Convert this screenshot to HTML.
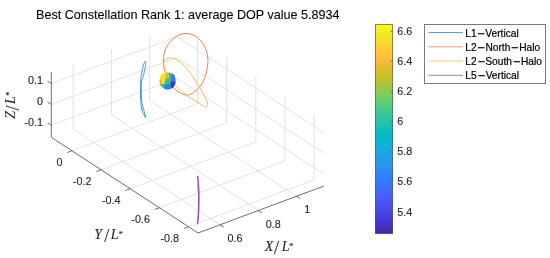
<!DOCTYPE html>
<html><head><meta charset="utf-8"><title>Best Constellation Rank 1</title>
<style>
html,body{margin:0;padding:0;background:#fff;width:550px;height:258px;overflow:hidden}
svg{display:block}
text{font-family:"Liberation Sans",Arial,sans-serif;font-size:10.8px;fill:#262626;stroke:#262626;stroke-width:0.12px}
.g{stroke:#dadada;stroke-width:0.8;fill:none}
.a{stroke:#5c5c5c;stroke-width:0.9;fill:none;stroke-linecap:butt}
.c{fill:none;stroke-width:1;stroke-linejoin:round;stroke-linecap:round}
.lbl{font-family:"Liberation Serif","Times New Roman",serif;font-style:italic;font-size:14px;fill:#262626;stroke:#262626;stroke-width:0.1px}
.lbl .sup{font-size:9px;font-style:normal}
.lbl .sl{font-size:18px;font-style:normal}
.ttl{font-size:12.6px;fill:#000}
.lg{font-size:10.2px;fill:#000;stroke:#000;stroke-width:0.2px}
.lg .mi{font-size:12.5px}
</style></head>
<body>
<svg width="550" height="258" viewBox="0 0 550 258">
<defs>
<linearGradient id="parula" x1="0" y1="1" x2="0" y2="0">
<stop offset="0.0000" stop-color="#3e26a8"/>
<stop offset="0.0159" stop-color="#402ab4"/>
<stop offset="0.0317" stop-color="#422ec0"/>
<stop offset="0.0476" stop-color="#4332cb"/>
<stop offset="0.0635" stop-color="#4537d5"/>
<stop offset="0.0794" stop-color="#463cde"/>
<stop offset="0.0952" stop-color="#4741e5"/>
<stop offset="0.1111" stop-color="#4747eb"/>
<stop offset="0.1270" stop-color="#484df0"/>
<stop offset="0.1429" stop-color="#4852f4"/>
<stop offset="0.1587" stop-color="#4758f8"/>
<stop offset="0.1746" stop-color="#465efb"/>
<stop offset="0.1905" stop-color="#4563fd"/>
<stop offset="0.2063" stop-color="#4269fe"/>
<stop offset="0.2222" stop-color="#3e6fff"/>
<stop offset="0.2381" stop-color="#3875fe"/>
<stop offset="0.2540" stop-color="#327cfc"/>
<stop offset="0.2698" stop-color="#2f81fa"/>
<stop offset="0.2857" stop-color="#2e87f7"/>
<stop offset="0.3016" stop-color="#2d8cf3"/>
<stop offset="0.3175" stop-color="#2b91ef"/>
<stop offset="0.3333" stop-color="#2797eb"/>
<stop offset="0.3492" stop-color="#259be8"/>
<stop offset="0.3651" stop-color="#23a0e5"/>
<stop offset="0.3810" stop-color="#20a5e3"/>
<stop offset="0.3968" stop-color="#1ca9df"/>
<stop offset="0.4127" stop-color="#18addb"/>
<stop offset="0.4286" stop-color="#12b1d6"/>
<stop offset="0.4444" stop-color="#08b5d0"/>
<stop offset="0.4603" stop-color="#01b8ca"/>
<stop offset="0.4762" stop-color="#02bac3"/>
<stop offset="0.4921" stop-color="#0bbdbd"/>
<stop offset="0.5079" stop-color="#19bfb6"/>
<stop offset="0.5238" stop-color="#24c1ae"/>
<stop offset="0.5397" stop-color="#2cc4a7"/>
<stop offset="0.5556" stop-color="#31c69f"/>
<stop offset="0.5714" stop-color="#37c897"/>
<stop offset="0.5873" stop-color="#3fca8e"/>
<stop offset="0.6032" stop-color="#4acb84"/>
<stop offset="0.6190" stop-color="#57cc7a"/>
<stop offset="0.6349" stop-color="#64cd6f"/>
<stop offset="0.6508" stop-color="#72cd64"/>
<stop offset="0.6667" stop-color="#81cc59"/>
<stop offset="0.6825" stop-color="#8fcb4e"/>
<stop offset="0.6984" stop-color="#9dc943"/>
<stop offset="0.7143" stop-color="#abc739"/>
<stop offset="0.7302" stop-color="#b9c431"/>
<stop offset="0.7460" stop-color="#c5c22a"/>
<stop offset="0.7619" stop-color="#d1bf27"/>
<stop offset="0.7778" stop-color="#dcbd29"/>
<stop offset="0.7937" stop-color="#e6bb2d"/>
<stop offset="0.8095" stop-color="#f0ba36"/>
<stop offset="0.8254" stop-color="#f8ba3d"/>
<stop offset="0.8413" stop-color="#febe3c"/>
<stop offset="0.8571" stop-color="#fec338"/>
<stop offset="0.8730" stop-color="#fec934"/>
<stop offset="0.8889" stop-color="#fccf30"/>
<stop offset="0.9048" stop-color="#fad62d"/>
<stop offset="0.9206" stop-color="#f7dc2a"/>
<stop offset="0.9365" stop-color="#f5e327"/>
<stop offset="0.9524" stop-color="#f5e924"/>
<stop offset="0.9683" stop-color="#f6ef20"/>
<stop offset="0.9841" stop-color="#f7f51b"/>
<stop offset="1.0000" stop-color="#f9fb15"/>
</linearGradient>
<clipPath id="sph"><polygon points="165.4,72.7 167.7,72.3 169.9,72.7 172.5,73.5 174.3,75.3 175.2,77.6 175.6,80.2 175.6,82.5 174.8,85.1 173.4,87.3 171.7,88.6 169.0,89.5 166.8,89.5 164.6,88.9 162.3,87.3 160.5,85.5 159.7,82.9 159.4,80.2 159.9,77.6 161.0,75.3 162.8,73.5"/></clipPath>
<filter id="bl" x="-20%" y="-20%" width="140%" height="140%"><feGaussianBlur stdDeviation="0.6"/></filter>
</defs>
<rect width="550" height="258" fill="#fff"/>
<text class="ttl" x="36" y="18.7">Best Constellation Rank 1: average DOP value 5.8934</text>
<line x1="220.11" y1="224.75" x2="73.31" y2="129.15" class="g"/>
<line x1="73.31" y1="129.15" x2="73.31" y2="63.77" class="g"/>
<line x1="258.32" y1="210.5" x2="111.52" y2="114.89" class="g"/>
<line x1="111.52" y1="114.89" x2="111.52" y2="49.52" class="g"/>
<line x1="296.53" y1="196.25" x2="149.73" y2="100.64" class="g"/>
<line x1="149.73" y1="100.64" x2="149.73" y2="35.27" class="g"/>
<line x1="71.91" y1="150.77" x2="197.56" y2="103.9" class="g"/>
<line x1="197.56" y1="103.9" x2="197.56" y2="38.53" class="g"/>
<line x1="101.05" y1="169.76" x2="226.71" y2="122.88" class="g"/>
<line x1="226.71" y1="122.88" x2="226.71" y2="57.51" class="g"/>
<line x1="130.2" y1="188.74" x2="255.85" y2="141.86" class="g"/>
<line x1="255.85" y1="141.86" x2="255.85" y2="76.49" class="g"/>
<line x1="159.34" y1="207.72" x2="285" y2="160.85" class="g"/>
<line x1="285" y1="160.85" x2="285" y2="95.47" class="g"/>
<line x1="188.49" y1="226.7" x2="314.14" y2="179.83" class="g"/>
<line x1="314.14" y1="179.83" x2="314.14" y2="114.46" class="g"/>
<line x1="51.3" y1="125.28" x2="176.96" y2="78.41" class="g"/>
<line x1="176.96" y1="78.41" x2="323.76" y2="174.02" class="g"/>
<line x1="51.3" y1="104.43" x2="176.96" y2="57.56" class="g"/>
<line x1="176.96" y1="57.56" x2="323.76" y2="153.17" class="g"/>
<line x1="51.3" y1="83.58" x2="176.96" y2="36.71" class="g"/>
<line x1="176.96" y1="36.71" x2="323.76" y2="132.32" class="g"/>
<line x1="51.3" y1="137.36" x2="51.3" y2="71.98" class="a"/>
<line x1="51.3" y1="137.36" x2="198.1" y2="232.96" class="a"/>
<line x1="198.1" y1="232.96" x2="323.76" y2="186.09" class="a"/>
<line x1="220.11" y1="224.75" x2="223.75" y2="227.13" class="a"/>
<line x1="258.32" y1="210.5" x2="261.96" y2="212.87" class="a"/>
<line x1="296.53" y1="196.25" x2="300.17" y2="198.62" class="a"/>
<line x1="71.91" y1="150.77" x2="67.23" y2="152.52" class="a"/>
<line x1="101.05" y1="169.76" x2="96.37" y2="171.5" class="a"/>
<line x1="130.2" y1="188.74" x2="125.52" y2="190.48" class="a"/>
<line x1="159.34" y1="207.72" x2="154.66" y2="209.47" class="a"/>
<line x1="188.49" y1="226.7" x2="183.81" y2="228.45" class="a"/>
<line x1="51.3" y1="125.28" x2="47.66" y2="122.91" class="a"/>
<line x1="51.3" y1="104.43" x2="47.66" y2="102.06" class="a"/>
<line x1="51.3" y1="83.58" x2="47.66" y2="81.21" class="a"/>
<text x="42.9" y="83.6" text-anchor="end">0.1</text>
<text x="42.9" y="104.9" text-anchor="end">0</text>
<text x="42.9" y="125.9" text-anchor="end">-0.1</text>
<text x="62.4" y="165.6" text-anchor="end">0</text>
<text x="91.4" y="184.6" text-anchor="end">-0.2</text>
<text x="120.6" y="203.7" text-anchor="end">-0.4</text>
<text x="149.9" y="222.9" text-anchor="end">-0.6</text>
<text x="179.1" y="242" text-anchor="end">-0.8</text>
<text x="227.6" y="241.6">0.6</text>
<text x="265.8" y="228.1">0.8</text>
<text x="304.3" y="212.9">1</text>
<text x="397.2" y="34.9">6.6</text>
<text x="397.2" y="65">6.4</text>
<text x="397.2" y="95.1">6.2</text>
<text x="397.2" y="125.2">6</text>
<text x="397.2" y="155.3">5.8</text>
<text x="397.2" y="185.4">5.6</text>
<text x="397.2" y="215.5">5.4</text>
<text class="lbl" transform="rotate(-90)"><tspan x="-118.8" y="15.2">Z</tspan><tspan class="sl" x="-110.5" y="18.6">/</tspan><tspan x="-104" y="15.2">L</tspan><tspan class="sup" x="-96.1" y="12.2">*</tspan></text>
<text class="lbl"><tspan x="94.25" y="239.2">Y</tspan><tspan class="sl" x="104.2" y="242.35">/</tspan><tspan x="110.85" y="239.2">L</tspan><tspan class="sup" x="118.6" y="237.15">*</tspan></text>
<text class="lbl"><tspan x="264.8" y="250.6">X</tspan><tspan class="sl" x="274" y="253.55">/</tspan><tspan x="281.65" y="250.6">L</tspan><tspan class="sup" x="289" y="248.75">*</tspan></text>
<path d="M145.2,61.5C144.93,61.95 144.05,62.85 143.6,64.2C143.15,65.55 142.95,67.4 142.5,69.6C142.05,71.8 141.22,75 140.9,77.4C140.58,79.8 140.67,81.9 140.6,84C140.53,86.1 140.5,88 140.5,90C140.5,92 140.53,93.78 140.6,96C140.67,98.22 140.75,101.32 140.9,103.3C141.05,105.28 141.25,106.48 141.5,107.9C141.75,109.32 141.95,110.62 142.4,111.8C142.85,112.98 143.67,114.03 144.2,115C144.73,115.97 145.37,117.17 145.6,117.6" class="c" stroke="#4296d6"/>
<path d="M145.2,61.5C145.3,61.82 145.87,62.05 145.8,63.4C145.73,64.75 145.28,67.27 144.8,69.6C144.32,71.93 143.47,75.33 142.9,77.4C142.33,79.47 141.68,79.9 141.4,82C141.12,84.1 141.2,87.67 141.2,90C141.2,92.33 141.27,93.78 141.4,96C141.53,98.22 141.7,101.32 142,103.3C142.3,105.28 142.82,106.48 143.2,107.9C143.58,109.32 143.98,110.62 144.3,111.8C144.62,112.98 144.88,114.03 145.1,115C145.32,115.97 145.52,117.17 145.6,117.6" class="c" stroke="#4296d6"/>
<path d="M197.8,176.3C197.82,177.52 197.82,181.15 197.9,183.6C197.98,186.05 198.18,188.4 198.3,191C198.42,193.6 198.6,195.87 198.6,199.2C198.6,202.53 198.48,206.9 198.3,211C198.12,215.1 197.63,221.67 197.5,223.8" class="c" stroke="#914aa8"/>
<path d="M197.8,176.3C197.93,177.52 198.4,181.15 198.6,183.6C198.8,186.05 198.92,188.4 199,191C199.08,193.6 199.13,195.87 199.1,199.2C199.07,202.53 199.03,206.9 198.8,211C198.57,215.1 197.88,221.67 197.7,223.8" class="c" stroke="#914aa8"/>
<path d="M165.1,72C164.85,71 163.87,68.23 163.6,66C163.33,63.77 163.3,61.03 163.5,58.6C163.7,56.17 164.12,53.62 164.8,51.4C165.48,49.18 166.33,47.32 167.6,45.3C168.87,43.28 170.5,41.03 172.4,39.3C174.3,37.57 176.57,35.87 179,34.9C181.43,33.93 184.32,33.33 187,33.5C189.68,33.67 192.58,34.4 195.1,35.9C197.62,37.4 200.25,40.18 202.1,42.5C203.95,44.82 205.25,47.22 206.2,49.8C207.15,52.38 207.53,55.67 207.8,58C208.07,60.33 208.02,61.47 207.8,63.8C207.58,66.13 207.17,69.28 206.5,72C205.83,74.72 204.92,77.6 203.8,80.1C202.68,82.6 201.52,84.92 199.8,87C198.08,89.08 195.57,91.27 193.5,92.6C191.43,93.93 189.38,94.83 187.4,95C185.42,95.17 183.53,94.42 181.6,93.6C179.67,92.78 177.35,91.35 175.8,90.1C174.25,88.85 172.88,86.77 172.3,86.1" class="c" stroke="#e8835c"/>
<path d="M165.3,72C165.1,71 164.33,67.7 164.1,66C163.87,64.3 163.48,63.03 163.9,61.8C164.32,60.57 165.47,59.23 166.6,58.6C167.73,57.97 169.15,57.9 170.7,58C172.25,58.1 174.07,58.32 175.9,59.2C177.73,60.08 179.95,61.85 181.7,63.3C183.45,64.75 184.55,65.68 186.4,67.9C188.25,70.12 190.77,73.6 192.8,76.6C194.83,79.6 197.1,83.52 198.6,85.9C200.1,88.28 200.82,89.22 201.8,90.9C202.78,92.58 203.67,94.32 204.5,96C205.33,97.68 206.27,99.53 206.8,101C207.33,102.47 207.78,103.78 207.7,104.8C207.62,105.82 207.23,107.03 206.3,107.1C205.37,107.17 203.88,106.22 202.1,105.2C200.32,104.18 198.05,102.53 195.6,101C193.15,99.47 189.92,97.82 187.4,96C184.88,94.18 182.53,91.95 180.5,90.1C178.47,88.25 176.08,85.77 175.2,84.9" class="c" stroke="#f0bd48"/>
<g clip-path="url(#sph)">
<g filter="url(#bl)">
<rect x="158" y="71" width="20" height="20" fill="#3cb89e"/>
<path d="M158,71 L166,71 L166,76 L165.4,80 L164.5,83.5 L162,85 L158,85 Z" fill="#f7e024"/>
<path d="M165.2,71 L168.8,71 L168.6,75 L165.6,75.2 Z" fill="#f2b43a"/>
<path d="M165.8,75 L169,75 L169.2,78.4 L165.8,78.6 Z" fill="#c9c437"/>
<path d="M158,79.5 L161.3,79.5 L162.2,85 L158,85 Z" fill="#f2b038"/>
<path d="M172.4,71.5 L177,71.5 L177,82 L171.2,82 L171,78 Z" fill="#3478ee"/>
<path d="M170.6,81.8 L177,81.5 L177,91 L172,91 L170.4,87.5 Z" fill="#3a34c9"/>
<path d="M164,84.3 L170.4,83.9 L172,91 L163,91 Z" fill="#1f86e2"/>
<path d="M158,84.4 L164.2,84.2 L164.4,91 L158,91 Z" fill="#46ba78"/>
</g>
</g>
<rect x="375" y="24" width="18" height="209.8" fill="url(#parula)"/>
<rect x="375.5" y="24.5" width="17" height="208.8" fill="none" stroke="#555" stroke-width="0.65"/>
<g class="a">
<line x1="392.5" y1="31.3" x2="390.8" y2="31.3"/><line x1="392.5" y1="61.4" x2="390.8" y2="61.4"/><line x1="392.5" y1="91.5" x2="390.8" y2="91.5"/><line x1="392.5" y1="121.6" x2="390.8" y2="121.6"/><line x1="392.5" y1="151.7" x2="390.8" y2="151.7"/><line x1="392.5" y1="181.8" x2="390.8" y2="181.8"/><line x1="392.5" y1="211.9" x2="390.8" y2="211.9"/>
</g>
<rect x="424.5" y="24.5" width="121" height="59" fill="#fff" stroke="#7a7a7a" stroke-width="1"/>
<line x1="428.4" y1="32.6" x2="462.9" y2="32.6" stroke="#4c9bd7" stroke-width="1"/>
<line x1="428.4" y1="46.8" x2="462.9" y2="46.8" stroke="#ee957a" stroke-width="1"/>
<line x1="428.4" y1="61.1" x2="462.9" y2="61.1" stroke="#f5cb72" stroke-width="1"/>
<line x1="428.4" y1="75.3" x2="462.9" y2="75.3" stroke="#aa7cc0" stroke-width="1"/>
<text class="lg"><tspan x="465.25" y="36.6">L1</tspan><tspan class="mi" x="477.3" y="37.55">−</tspan><tspan x="485.3" y="36.6">Vertical</tspan></text>
<text class="lg"><tspan x="465.25" y="50.65">L2</tspan><tspan class="mi" x="477.3" y="51.60">−</tspan><tspan x="485.45" y="50.65">North</tspan><tspan class="mi" x="511.0" y="51.60">−</tspan><tspan x="519.2" y="50.65">Halo</tspan></text>
<text class="lg"><tspan x="465.25" y="64.7">L2</tspan><tspan class="mi" x="477.7" y="65.65">−</tspan><tspan x="485.3" y="64.7">South</tspan><tspan class="mi" x="512.9" y="65.65">−</tspan><tspan x="520.9" y="64.7">Halo</tspan></text>
<text class="lg"><tspan x="465.25" y="78.75">L5</tspan><tspan class="mi" x="477.7" y="79.70">−</tspan><tspan x="485.65" y="78.75">Vertical</tspan></text>
</svg>
</body></html>
